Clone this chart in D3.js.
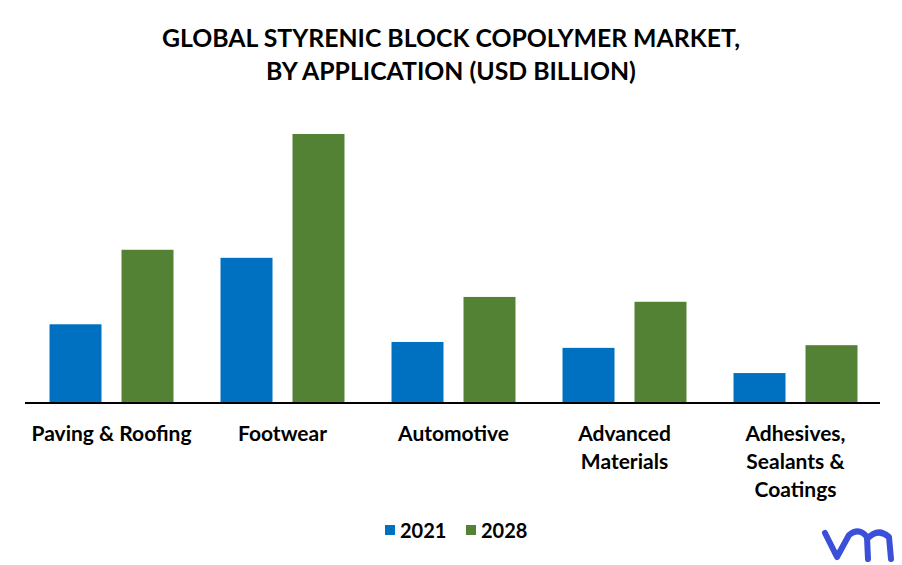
<!DOCTYPE html>
<html>
<head>
<meta charset="utf-8">
<script src="https://cdn.jsdelivr.net/npm/d3@7"></script>
<style>
  body { margin: 0; background: #fff; }
  svg text { font-family: Lato, "Open Sans", sans-serif; font-weight: bold; fill: #000; }
</style>
</head>
<body>
<div class="chart"></div>
<script>
// ---- data (USD billion) ----
const categories = [
  ['Paving & Roofing'],
  ['Footwear'],
  ['Automotive'],
  ['Advanced', 'Materials'],
  ['Adhesives,', 'Sealants &', 'Coatings']
];
const series = ['2021', '2028'];
const values2021 = [1.45, 2.69, 1.12, 1.01, 0.54];
const values2028 = [2.84, 5.00, 1.96, 1.87, 1.06];
const colors = ['#0070c0', '#548235'];

const width = 902, height = 565;
const xLeft = 25, xRight = 880, yBase = 402, yTop = 134;

const svg = d3.select('.chart').append('svg')
  .attr('width', width)
  .attr('height', height);

// title
svg.append('text')
  .attr('x', 451).attr('y', 47)
  .attr('text-anchor', 'middle')
  .style('font-size', '24.8px')
  .text('GLOBAL STYRENIC BLOCK COPOLYMER MARKET,');
svg.append('text')
  .attr('x', 451).attr('y', 80)
  .attr('text-anchor', 'middle')
  .style('font-size', '24.8px')
  .text('BY APPLICATION (USD BILLION)');

// scales
const x0 = d3.scaleBand()
  .domain(d3.range(categories.length))
  .range([xLeft + 1, xRight + 1])
  .paddingInner(0.275)
  .paddingOuter(0.1375);
const x1 = d3.scaleBand()
  .domain(series)
  .range([0, x0.bandwidth()])
  .paddingInner(0.278);
const y = d3.scaleLinear().domain([0, 5.0]).range([yBase, yTop]);

const rows = categories.map((c, i) => ({ i, vals: [values2021[i], values2028[i]] }));

// bars
const groups = svg.selectAll('g.grp')
  .data(rows)
  .enter().append('g')
    .attr('class', 'grp')
    .attr('transform', d => 'translate(' + x0(d.i) + ',0)');

groups.selectAll('rect')
  .data(d => d.vals.map((v, k) => ({ k, v })))
  .enter().append('rect')
    .attr('x', d => x1(series[d.k]))
    .attr('y', d => y(d.v))
    .attr('width', x1.bandwidth())
    .attr('height', d => yBase - y(d.v))
    .attr('fill', d => colors[d.k]);

// x axis
const axis = svg.append('g')
  .attr('transform', 'translate(0,' + (yBase + 1) + ')')
  .call(d3.axisBottom(x0).tickSize(0).tickFormat(''));
axis.select('.domain').attr('stroke', '#000').attr('stroke-width', 2)
  .attr('d', 'M' + xLeft + ',0H' + xRight);

// category labels
svg.selectAll('text.cat')
  .data(categories)
  .enter().append('text')
    .attr('class', 'cat')
    .attr('text-anchor', 'middle')
    .style('font-size', '21px')
    .attr('x', (d, i) => x0(i) + x0.bandwidth() / 2)
    .attr('y', 441)
    .each(function (d) {
      const t = d3.select(this);
      d.forEach((line, j) => {
        t.append('tspan')
          .attr('x', t.attr('x'))
          .attr('dy', j === 0 ? 0 : 28)
          .text(line);
      });
    });

// legend
const legend = svg.selectAll('g.leg')
  .data(series)
  .enter().append('g')
    .attr('class', 'leg')
    .attr('transform', (d, i) => 'translate(' + (385 + i * 81) + ',525)');
legend.append('rect')
  .attr('width', 10).attr('height', 10)
  .attr('fill', (d, i) => colors[i]);
legend.append('text')
  .attr('x', 15).attr('y', 12.5)
  .style('font-size', '20px')
  .text(d => d);

// logo (drawn as strokes)
svg.append('path')
  .attr('d', 'M825,533 L837,557 L849,535 Q859,527 867,537 L868,559 M867,539 Q878,527 889,537 L891,559')
  .attr('fill', 'none')
  .attr('stroke', '#3b4fd8')
  .attr('stroke-width', 6)
  .attr('stroke-linecap', 'round')
  .attr('stroke-linejoin', 'round');
</script>
</body>
</html>
